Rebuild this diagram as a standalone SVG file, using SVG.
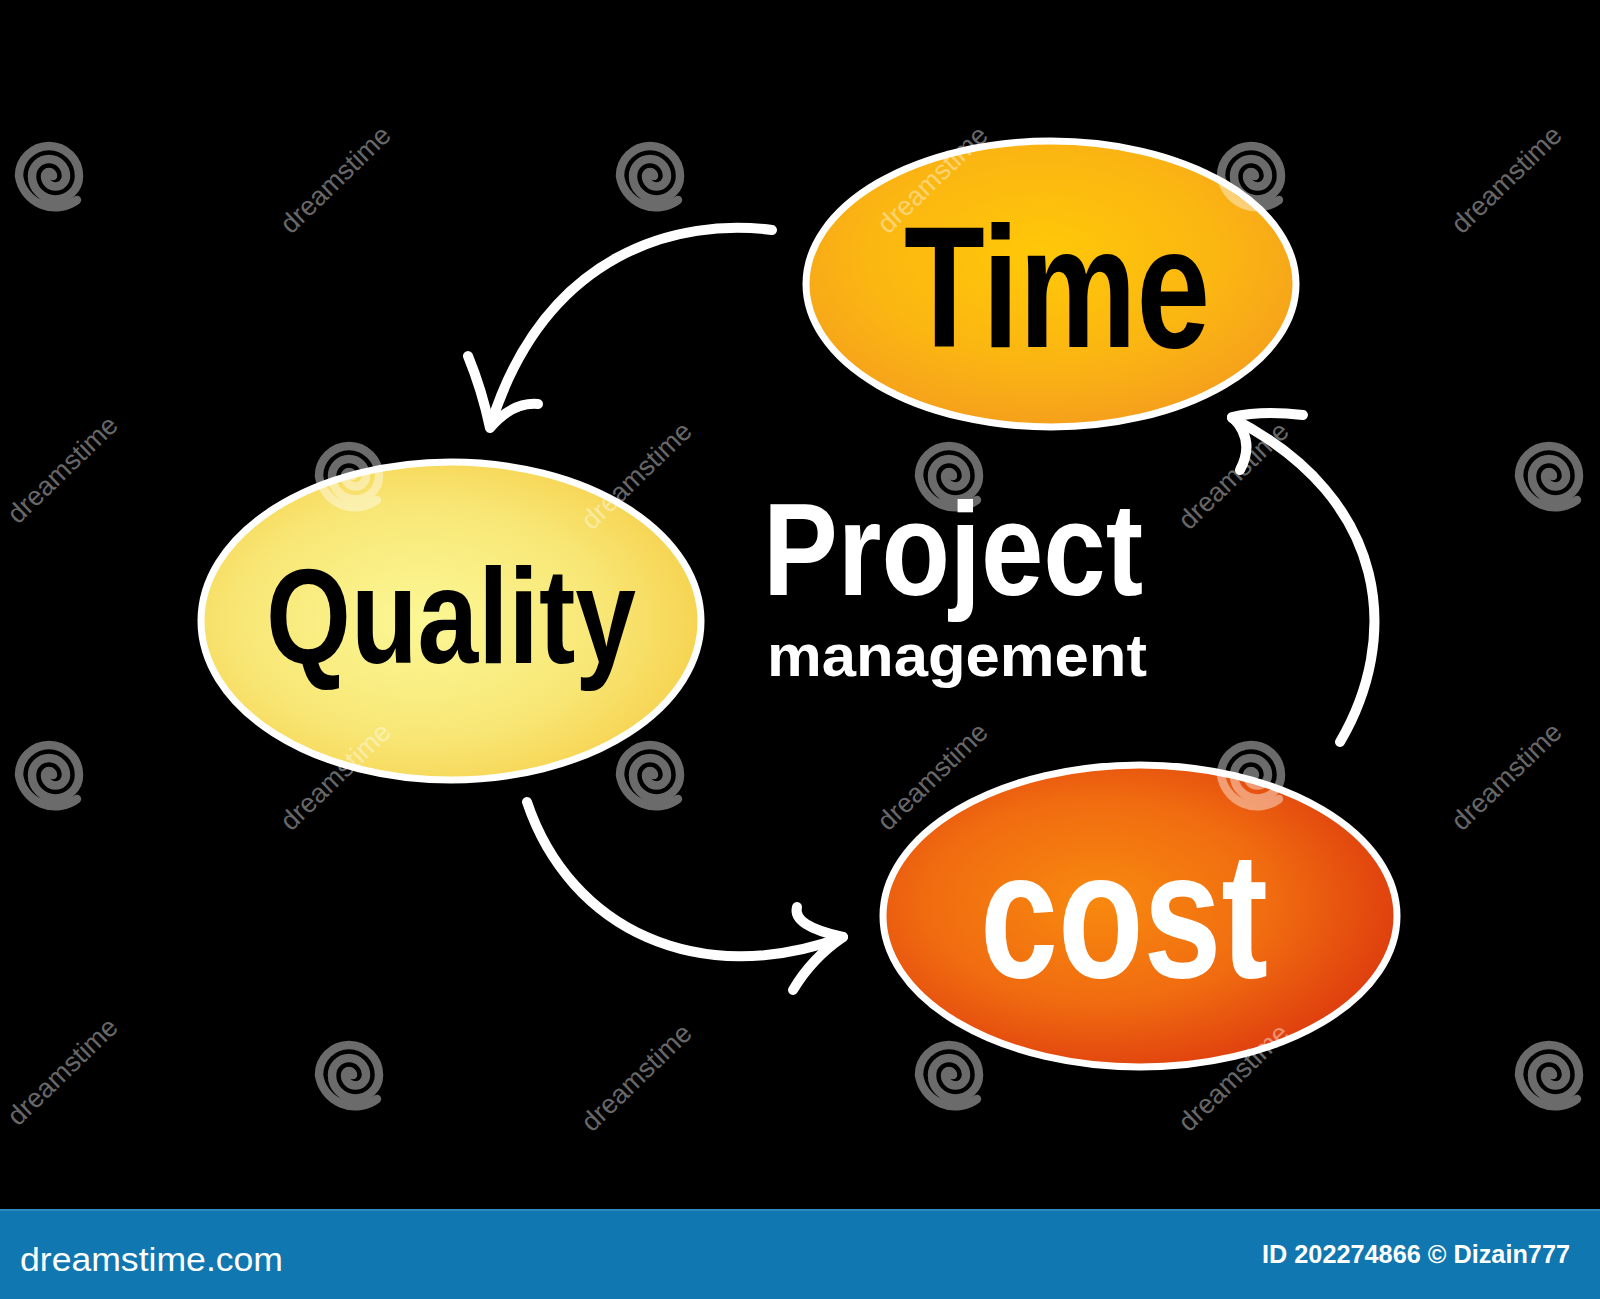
<svg xmlns="http://www.w3.org/2000/svg" width="1600" height="1299" viewBox="0 0 1600 1299">
  <defs>
    <radialGradient id="gTime" cx="0.48" cy="0.4" r="0.6">
      <stop offset="0" stop-color="#ffc807"/>
      <stop offset="0.6" stop-color="#fbb612"/>
      <stop offset="1" stop-color="#f5a01c"/>
    </radialGradient>
    <radialGradient id="gQuality" cx="0.44" cy="0.5" r="0.6">
      <stop offset="0" stop-color="#fbf795"/>
      <stop offset="0.6" stop-color="#f8e776"/>
      <stop offset="1" stop-color="#f6d04b"/>
    </radialGradient>
    <radialGradient id="gCost" cx="0.42" cy="0.45" r="0.62">
      <stop offset="0" stop-color="#f8890f"/>
      <stop offset="0.55" stop-color="#f06b10"/>
      <stop offset="1" stop-color="#dd3a0e"/>
    </radialGradient>
    <path id="spiral" d="M 4 0 A 4 4 0 0 0 -4 0 A 10.5 10.5 0 0 0 17 0 A 17 17 0 0 0 -17 0 A 23.5 23.5 0 0 0 30 0 A 30 30 0 0 0 -30 0 A 36.5 36.5 0 0 0 28 24"/>
  </defs>
  <style>
    .node-shape { stroke: #ffffff; stroke-width: 7; }
    .hand { font-family: "Liberation Sans", "DejaVu Sans", sans-serif; font-weight: bold; }
    .conn { fill: none; stroke: #ffffff; stroke-width: 10; stroke-linecap: round; stroke-linejoin: round; }
    .wm-text { font-family: "Liberation Sans", "DejaVu Sans", sans-serif; font-size: 27px; fill: #ffffff; fill-opacity: 0.42; }
    .wm-spiral { fill: none; stroke: #ffffff; stroke-opacity: 0.42; stroke-width: 8.5; stroke-linecap: round; }
    .footer-text { font-family: "Liberation Sans", "DejaVu Sans", sans-serif; fill: #ffffff; }
  </style>

  <rect x="0" y="0" width="1600" height="1299" fill="#000000"/>

  <g id="connectors">
    <g id="edge-time-quality">
      <path class="conn" d="M 772 230 C 680 218, 545 250, 490 427"/>
      <path class="conn" d="M 468 356 Q 482 390 490 428 Q 512 402 538 404"/>
    </g>
    <g id="edge-cost-time">
      <path class="conn" d="M 1340 742 C 1400 640, 1392 500, 1232 418"/>
      <path class="conn" d="M 1303 415 Q 1262 410 1232 417 Q 1256 440 1240 470"/>
    </g>
    <g id="edge-quality-cost">
      <path class="conn" d="M 527 802 C 570 930, 700 990, 843 937"/>
      <path class="conn" d="M 797 907 Q 792 926 843 937 Q 812 958 793 990"/>
    </g>
  </g>

  <g id="node-time">
    <ellipse class="node-shape" cx="1051" cy="284" rx="245" ry="143" fill="url(#gTime)"/>
    <text class="hand" x="904" y="347" font-size="172" textLength="306" lengthAdjust="spacingAndGlyphs" fill="#000000">Time</text>
  </g>

  <g id="node-quality">
    <ellipse class="node-shape" cx="451" cy="621" rx="250" ry="159" fill="url(#gQuality)"/>
    <text class="hand" x="266" y="663" font-size="136" textLength="370" lengthAdjust="spacingAndGlyphs" fill="#000000">Quality</text>
  </g>

  <g id="node-cost">
    <ellipse class="node-shape" cx="1140" cy="916" rx="257" ry="151" fill="url(#gCost)"/>
    <text class="hand" x="980" y="977" font-size="180" textLength="288" lengthAdjust="spacingAndGlyphs" fill="#ffffff">cost</text>
  </g>

  <g id="label-project">
    <text class="hand" x="763" y="595" font-size="132" textLength="380" lengthAdjust="spacingAndGlyphs" fill="#ffffff">Project</text>
    <text class="hand" x="767" y="676" font-size="60" textLength="380" lengthAdjust="spacingAndGlyphs" fill="#ffffff">management</text>
  </g>

  <g id="watermark">
    <use href="#spiral" class="wm-spiral" x="49" y="176"/>
    <use href="#spiral" class="wm-spiral" x="650" y="176"/>
    <use href="#spiral" class="wm-spiral" x="1251" y="176"/>
    <use href="#spiral" class="wm-spiral" x="349" y="476"/>
    <use href="#spiral" class="wm-spiral" x="949" y="476"/>
    <use href="#spiral" class="wm-spiral" x="1549" y="476"/>
    <use href="#spiral" class="wm-spiral" x="49" y="775"/>
    <use href="#spiral" class="wm-spiral" x="650" y="775"/>
    <use href="#spiral" class="wm-spiral" x="1251" y="775"/>
    <use href="#spiral" class="wm-spiral" x="349" y="1075"/>
    <use href="#spiral" class="wm-spiral" x="949" y="1075"/>
    <use href="#spiral" class="wm-spiral" x="1549" y="1075"/>
    <text class="wm-text" transform="translate(291 235) rotate(-44)">dreamstime</text>
    <text class="wm-text" transform="translate(888 235) rotate(-44)">dreamstime</text>
    <text class="wm-text" transform="translate(1462 235) rotate(-44)">dreamstime</text>
    <text class="wm-text" transform="translate(18 525) rotate(-44)">dreamstime</text>
    <text class="wm-text" transform="translate(592 531) rotate(-44)">dreamstime</text>
    <text class="wm-text" transform="translate(1189 531) rotate(-44)">dreamstime</text>
    <text class="wm-text" transform="translate(291 832) rotate(-44)">dreamstime</text>
    <text class="wm-text" transform="translate(888 832) rotate(-44)">dreamstime</text>
    <text class="wm-text" transform="translate(1462 832) rotate(-44)">dreamstime</text>
    <text class="wm-text" transform="translate(18 1127) rotate(-44)">dreamstime</text>
    <text class="wm-text" transform="translate(592 1133) rotate(-44)">dreamstime</text>
    <text class="wm-text" transform="translate(1189 1133) rotate(-44)">dreamstime</text>
  </g>

  <g id="footer">
    <rect x="0" y="1209" width="1600" height="90" fill="#1077b0"/>
    <rect x="0" y="1209" width="1600" height="2" fill="#2a8bc0"/>
    <text class="footer-text" x="20" y="1271" font-size="34" textLength="263" lengthAdjust="spacingAndGlyphs">dreamstime.com</text>
    <text class="footer-text" x="1262" y="1263" font-size="26" font-weight="bold" textLength="308" lengthAdjust="spacingAndGlyphs">ID 202274866 © Dizain777</text>
  </g>
</svg>
